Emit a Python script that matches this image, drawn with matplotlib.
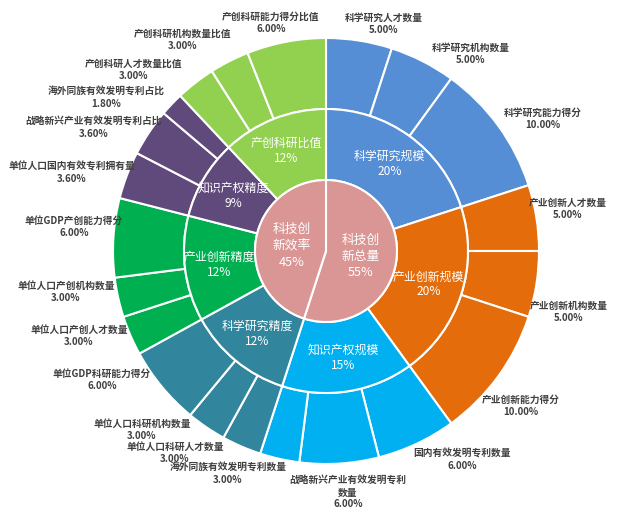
import matplotlib
matplotlib.use("Agg")
import matplotlib.pyplot as plt
import numpy as np

plt.rcParams['font.family'] = ['Noto Sans CJK SC', 'DejaVu Sans']

# ---------------- data ----------------
inner_labels = ["科技创\n新总量", "科技创\n新效率"]
inner_values = [55, 45]

mid_labels = ["科学研究规模", "产业创新规模", "知识产权规模", "科学研究精度",
              "产业创新精度", "知识产权精度", "产创科研比值"]
mid_values = [20, 20, 15, 12, 12, 9, 12]
mid_parent = [0, 0, 0, 1, 1, 1, 1]

outer_labels = [
    "科学研究人才数量", "科学研究机构数量", "科学研究能力得分",
    "产业创新人才数量", "产业创新机构数量", "产业创新能力得分",
    "国内有效发明专利数量", "战略新兴产业有效发明专利\n数量", "海外同族有效发明专利数量",
    "单位人口科研人才数量", "单位人口科研机构数量", "单位GDP科研能力得分",
    "单位人口产创人才数量", "单位人口产创机构数量", "单位GDP产创能力得分",
    "单位人口国内有效专利拥有量", "战略新兴产业有效发明专利占比", "海外同族有效发明专利占比",
    "产创科研人才数量比值", "产创科研机构数量比值", "产创科研能力得分比值",
]
outer_values = [5, 5, 10, 5, 5, 10, 6, 6, 3, 3, 3, 6, 3, 3, 6, 3.6, 3.6, 1.8, 3, 3, 6]
outer_parent = [0, 0, 0, 1, 1, 1, 2, 2, 2, 3, 3, 3, 4, 4, 4, 5, 5, 5, 6, 6, 6]

# ---------------- style / layout ----------------
inner_color = "#D99694"
group_colors = ["#558ED5", "#E46C0A", "#00B0F0", "#31859C", "#00B050", "#604A7B", "#92D050"]

W, H = 620, 522
CX, CY = 326, H - 251
R1, R2, R3 = 71, 142, 213

# outer label anchor positions in pixel coords (x center, y of first line), from picture layout
outer_label_pos = [
    (384, 19), (471, 49), (543, 114),
    (568, 204), (569, 307), (521, 401),
    (462, 455), (348, 482), (228, 469),
    (175, 448), (142, 425), (102, 375),
    (79, 331), (66, 287), (74, 222),
    (72, 168), (94, 123), (106, 93),
    (134, 65), (183, 35), (271, 18),
]

fig = plt.figure(figsize=(W / 100, H / 100), dpi=100)
ax = fig.add_axes([0, 0, 1, 1])

wp = dict(edgecolor="white", linewidth=1.5)
ax.pie(outer_values, radius=R3, center=(CX, CY), startangle=90, counterclock=False,
       colors=[group_colors[p] for p in outer_parent],
       wedgeprops=dict(width=R3 - R2, **wp))
ax.pie(mid_values, radius=R2, center=(CX, CY), startangle=90, counterclock=False,
       colors=group_colors, wedgeprops=dict(width=R2 - R1, **wp))
ax.pie(inner_values, radius=R1, center=(CX, CY), startangle=90, counterclock=False,
       colors=[inner_color] * len(inner_values), wedgeprops=dict(**wp))

def polar(frac_mid, r):
    ang = np.deg2rad(90 - 360 * frac_mid)
    return CX + r * np.cos(ang), CY + r * np.sin(ang)

# inner labels
tot = sum(inner_values)
cum = 0
for lab, v in zip(inner_labels, inner_values):
    x, y = polar((cum + v / 2) / tot, 35)
    ax.text(x, y, f"{lab}\n{v}%", ha="center", va="center", color="white",
            fontsize=9.2, linespacing=1.35, fontweight="medium")
    cum += v

# middle labels
tot = sum(mid_values)
cum = 0
for lab, v in zip(mid_labels, mid_values):
    x, y = polar((cum + v / 2) / tot, 108)
    ax.text(x, y, f"{lab}\n{v}%", ha="center", va="center", color="white",
            fontsize=8.6, linespacing=1.2, fontweight="medium")
    cum += v

# outer labels
for lab, v, (px, py) in zip(outer_labels, outer_values, outer_label_pos):
    ax.text(px, H - py + 6, f"{lab}\n{v:.2f}%", ha="center", va="top", color="#3F3F3F",
            fontsize=7.0, linespacing=1.2, fontweight="bold")

ax.set_xlim(0, W)
ax.set_ylim(0, H)
ax.set_aspect("equal")
ax.axis("off")
fig.savefig("out.png", dpi=100, facecolor="white")
